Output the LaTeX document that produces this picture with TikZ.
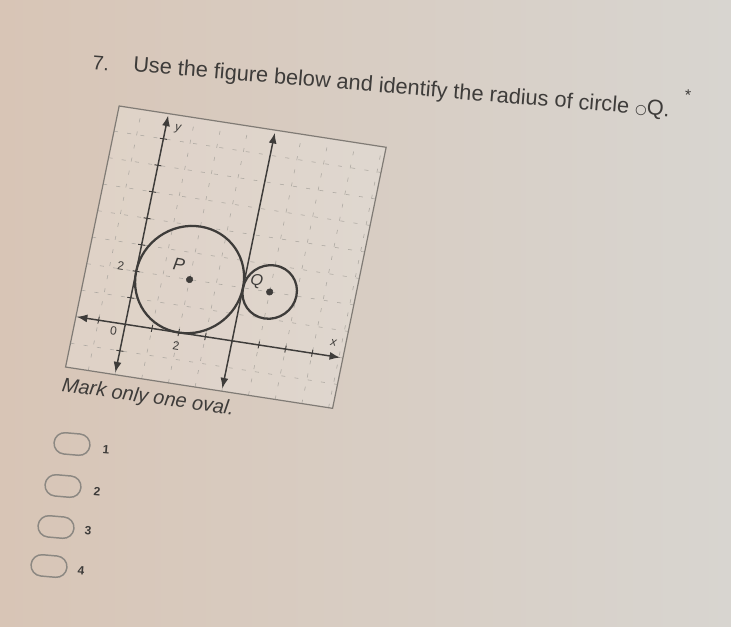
\documentclass[tikz,border=0pt]{standalone}
\usepackage{fontspec}
\setmainfont{Liberation Sans}
\newfontfamily\symfont{DejaVu Sans}
\usetikzlibrary{arrows.meta}

\definecolor{ink}{RGB}{62,60,58}
\definecolor{framegray}{RGB}{128,123,117}
\definecolor{gridgray}{RGB}{175,170,163}
\definecolor{ovalgray}{RGB}{140,136,130}
\definecolor{paperL}{RGB}{216,197,182}
\definecolor{paperR}{RGB}{216,213,208}

\begin{document}
\begin{tikzpicture}[x=0.75pt, y=-0.75pt,
  axis/.style={ink, line width=1.1pt, {Latex[length=8pt,width=6pt]}-{Latex[length=8pt,width=6pt]}},
  ring/.style={ink, line width=1.7pt},
  gridline/.style={gridgray, line width=0.45pt, dash pattern=on 3pt off 7pt},
  lbl/.style={ink, font=\fontsize{9}{10}\selectfont, rotate=-9, inner sep=0pt},
  optoval/.style={draw=ovalgray, line width=1.1pt, rounded corners=8pt, minimum width=27pt, minimum height=16pt, inner sep=0pt, rotate=-5},
  optlbl/.style={ink, font=\bfseries\fontsize{9}{10}\selectfont, inner sep=0pt, rotate=-5}]

% paper
\useasboundingbox (0,0) rectangle (731,626);
\shade[left color=paperL, right color=paperR] (0,0) rectangle (731,626);

% question
\node[ink, font=\fontsize{15}{17}\selectfont, rotate=-4.8] (num) at (101,63) {7.};
\node[ink, font=\fontsize{16.3}{18}\selectfont, rotate=-4.8, anchor=west, inner sep=0pt] (question) at (133,66)
  {Use the figure below and identify the radius of circle {\symfont\fontsize{10}{12}\selectfont ○}Q.};
\node[ink, font=\fontsize{12}{14}\selectfont, rotate=-4.8] (star) at (688,95) {*};

\begin{scope}[shift={(125.3,324.3)}, x={(20.025pt,-3.0975pt)}, y={(4.08pt,19.875pt)}]

% frame
\coordinate (F1) at (-1.85,-1.9);
\coordinate (F2) at (8.15,-1.9);
\coordinate (F3) at (8.15,7.95);
\coordinate (F4) at (-1.85,7.95);
\fill[white, opacity=0.2] (F1) -- (F2) -- (F3) -- (F4) -- cycle;

% grid
\foreach \i in {-1,...,8} \draw[gridline] (\i,-1.9) -- (\i,7.95);
\foreach \j in {-1,...,7} \draw[gridline] (-1.85,\j) -- (8.15,\j);
\draw[framegray, line width=0.9pt] (F1) -- (F2) -- (F3) -- (F4) -- cycle;

% axes and tangent line
\coordinate (O) at (0,0);
\coordinate (X1) at (-1.82,0);
\coordinate (X2) at (8.05,0);
\coordinate (Y1) at (0,-1.82);
\coordinate (Y2) at (0,7.88);
\coordinate (T1) at (4,-1.8);
\coordinate (T2) at (4,7.85);
\draw[axis] (X1) -- (X2);
\draw[axis] (Y1) -- (Y2);
\draw[axis] (T1) -- (T2);

% ticks
\foreach \i in {-1,1,2,...,7} \draw[ink, line width=0.7pt] (\i,-0.13) -- (\i,0.13);
\foreach \j in {-1,1,2,...,7} \draw[ink, line width=0.7pt] (-0.13,\j) -- (0.13,\j);

% circles
\coordinate (P) at (2,2);
\coordinate (Q) at (5,2);
\draw[ring] (P) circle (2);
\draw[ring] (Q) circle (1);
\filldraw[ink] (P) circle (0.12);
\filldraw[ink] (Q) circle (0.12);

\node[lbl, font=\itshape\fontsize{13}{14}\selectfont] (Plbl) at (1.5,2.5) {P};
\node[lbl, font=\itshape\fontsize{12}{14}\selectfont] (Qlbl) at (4.45,2.3) {Q};
\node[lbl] (ylbl) at (0.45,7.45) {\itshape y};
\node[lbl] (xlbl) at (7.7,0.5) {\itshape x};
\node[lbl] (two y) at (-0.6,2.1) {2};
\node[lbl] (two x) at (2,-0.5) {2};
\node[lbl] (zero) at (-0.38,-0.3) {0};

\end{scope}

\node[ink, font=\itshape\fontsize{15}{17}\selectfont, rotate=-8] (mark) at (148,398) {Mark only one oval.};

% options
\node[optoval] (o1) at (72,444) {};
\node[optoval] (o2) at (63,486) {};
\node[optoval] (o3) at (56,527) {};
\node[optoval] (o4) at (49,566) {};
\node[optlbl] (l1) at (106,450) {1};
\node[optlbl] (l2) at (97,492) {2};
\node[optlbl] (l3) at (88,531) {3};
\node[optlbl] (l4) at (81,571) {4};

\end{tikzpicture}
\end{document}
